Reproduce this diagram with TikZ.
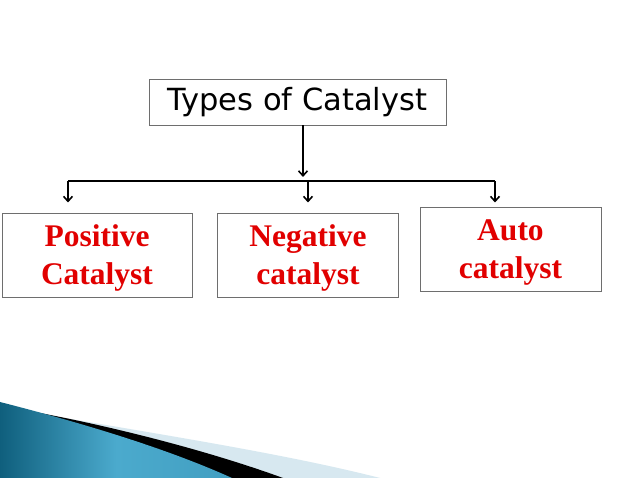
\documentclass[tikz,border=0pt]{standalone}
\usepackage{fontspec}
\setmainfont{Liberation Serif}
\newfontfamily\titlefont{DejaVu Sans}
\usetikzlibrary{arrows.meta}
\definecolor{boxgray}{RGB}{110,110,110}
\definecolor{typered}{RGB}{225,0,0}
\definecolor{tealdark}{RGB}{15,95,125}
\definecolor{teallight}{RGB}{75,170,205}
\definecolor{palebar}{RGB}{215,232,240}
\tikzset{
  titlebox/.style={draw=boxgray, line width=0.9pt, minimum width=297pt, minimum height=46pt, inner sep=0pt, font=\titlefont\fontsize{30.5}{34}\selectfont},
  typebox/.style={draw=boxgray, line width=0.9pt, minimum width=181pt, minimum height=84pt, inner sep=0pt, align=center, text depth=0pt, text=typered, font=\bfseries\fontsize{31.5}{38}\selectfont},
  branch/.style={line width=2pt, -{Straight Barb[length=5pt,width=9pt,line width=1.6pt]}}
}
\begin{document}
\begin{tikzpicture}[x=1pt, y=-1pt]
    \useasboundingbox[fill=white] (0,0) rectangle (638,478);

    % Corner swoosh
    \fill[palebar] (65,418) .. controls (170,436) and (290,455) .. (380,478) -- (0,478) -- cycle;
    \fill[black] (35,412) .. controls (130,430) and (220,455) .. (283,478) -- (0,478) -- cycle;
    \shade[left color=tealdark, right color=teallight!85!tealdark, middle color=teallight]
      (0,402) .. controls (90,425) and (170,450) .. (232,478) -- (0,478) -- cycle;

    % Title
    \node[titlebox] (types) at (297.5,102) {Types of Catalyst};

    % Types
    \node[typebox, minimum width=190pt] (positive) at (97,255) {Positive\\Catalyst};
    \node[typebox] (negative) at (308,255) {Negative\\catalyst};
    \node[typebox] (auto) at (510.5,249.5) {Auto\\catalyst};

    % Branch line
    \coordinate (left) at (68,181.5);
    \coordinate (right) at (495,181.5);
    \coordinate (mid) at (308,181.5);
    \draw[line width=2pt] (left) -- (right);
    \draw[branch] (types.south -| 303,0) -- (303,177);
    \draw[branch] (left) -- ++(0,21);
    \draw[branch] (mid) -- ++(0,21);
    \draw[branch] (right) -- ++(0,21);
\end{tikzpicture}
\end{document}
